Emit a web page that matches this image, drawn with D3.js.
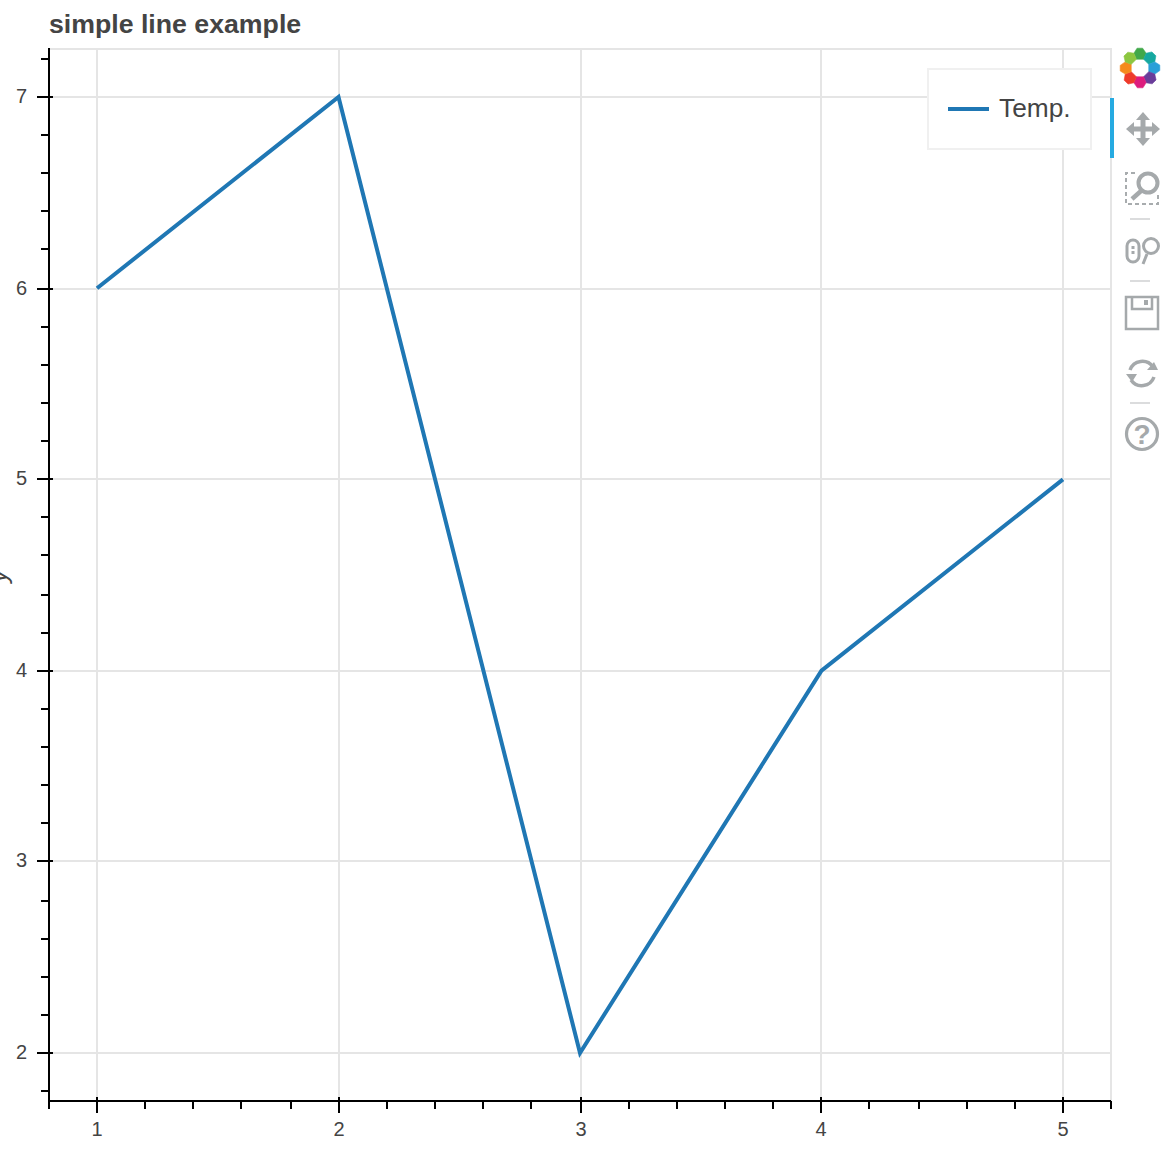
<!DOCTYPE html>
<html><head><meta charset="utf-8">
<script src="https://cdn.jsdelivr.net/npm/d3@7"></script>
<style>html,body{margin:0;padding:0;background:#fff}svg{display:block}text{font-family:"Liberation Sans",Arial,sans-serif}</style>
</head><body><svg id="c" width="1172" height="1160"></svg>
<script>
const title = "simple line example";
const seriesName = "Temp.";
const yLabel = "y";
const xValues = [1, 2, 3, 4, 5];
const yValues = [6, 7, 2, 4, 5];
const xMajor = [1, 2, 3, 4, 5];
const yMajor = [2, 3, 4, 5, 6, 7];
const xMinor = [0.8,1.2,1.4,1.6,1.8,2.2,2.4,2.6,2.8,3.2,3.4,3.6,3.8,4.2,4.4,4.6,4.8,5.2];
const yMinor = [1.8,2.2,2.4,2.6,2.8,3.2,3.4,3.6,3.8,4.2,4.4,4.6,4.8,5.2,5.4,5.6,5.8,6.2,6.4,6.6,6.8,7.2];
const logoColors = ["#3fa84a","#16a8a0","#2b9fd8","#6a3d9a","#dd1c7e","#ee3a2c","#f58a1f","#8cc63f"];

const L=49,R=1111,T=49,B=1101;
const svg=d3.select("#c");
const x=d3.scaleLinear().domain([0.80124,5.1988]).range([L,R]);
const y=d3.scaleLinear().domain([1.749,7.251]).range([B,T]);
const snap=v=>2*Math.floor((v+0.01)/2)+1;
const GRID="#e5e5e5",INK="#444444",BLUE="#1f77b4",ICON="#a5a9ab";

svg.append("path").attr("d",`M${L},${T}H${R}V${B}`).attr("fill","none").attr("stroke",GRID).attr("stroke-width",2);
svg.append("g").selectAll("line").data(xMajor).join("line")
 .attr("x1",d=>snap(x(d))).attr("x2",d=>snap(x(d))).attr("y1",T).attr("y2",B).attr("stroke",GRID).attr("stroke-width",2);
svg.append("g").selectAll("line").data(yMajor).join("line")
 .attr("y1",d=>snap(y(d))).attr("y2",d=>snap(y(d))).attr("x1",L).attr("x2",R).attr("stroke",GRID).attr("stroke-width",2);

svg.append("path").datum(xValues.map((v,i)=>[v,yValues[i]]))
 .attr("d",d3.line().x(d=>x(d[0])).y(d=>y(d[1])))
 .attr("fill","none").attr("stroke",BLUE).attr("stroke-width",4).attr("stroke-linejoin","miter");

function style(g){g.selectAll("line").attr("stroke","#000").attr("stroke-width",2);g.selectAll(".domain").remove();}
const snapX=g=>g.selectAll(".tick").attr("transform",d=>`translate(${snap(x(d))},0)`);
const snapY=g=>g.selectAll(".tick").attr("transform",d=>`translate(0,${snap(y(d))})`);
const gx=svg.append("g").attr("transform",`translate(0,${B})`);
gx.append("g").call(d3.axisBottom(x).offset(0).tickValues(xMinor).tickSize(8).tickFormat("")).call(style).call(snapX);
const gxM=gx.append("g").call(d3.axisBottom(x).offset(0).tickValues(xMajor).tickSize(12).tickFormat(d3.format("d"))).call(style).call(snapX);
gxM.selectAll("line").attr("y1",-4);
gxM.selectAll("text").attr("font-size",20).attr("fill",INK).attr("font-family",null).attr("y",21);
const gy=svg.append("g").attr("transform",`translate(${L},0)`);
gy.append("g").call(d3.axisLeft(y).offset(0).tickValues(yMinor).tickSize(8).tickFormat("")).call(style).call(snapY);
const gyM=gy.append("g").call(d3.axisLeft(y).offset(0).tickValues(yMajor).tickSize(12).tickFormat(d3.format("d"))).call(style).call(snapY);
gyM.selectAll("line").attr("x1",4);
gyM.selectAll("text").attr("font-size",20).attr("fill",INK).attr("font-family",null).attr("x",-22);
svg.append("path").attr("d",`M${L},${T-1}V${B}H${R}`).attr("fill","none").attr("stroke","#000").attr("stroke-width",2);

svg.append("text").attr("x",49).attr("y",33).attr("font-size",26.7).attr("font-weight","bold").attr("fill",INK).text(title);
svg.append("text").attr("transform","translate(7,576) rotate(-90)").attr("text-anchor","middle").attr("font-size",26).attr("font-style","italic").attr("fill",INK).text(yLabel);

svg.append("rect").attr("x",928).attr("y",69).attr("width",163).attr("height",80).attr("fill","#fff").attr("stroke","#f0f0f0").attr("stroke-width",2);
svg.append("line").attr("x1",948).attr("x2",989).attr("y1",109).attr("y2",109).attr("stroke",BLUE).attr("stroke-width",4);
svg.append("text").attr("x",999).attr("y",117).attr("font-size",26.3).attr("fill",INK).text(seriesName);

svg.append("rect").attr("x",1110).attr("y",98).attr("width",4).attr("height",60).attr("fill","#26aae1");
const tb=svg.append("g");
// logo: eight pinwheel blades
const defs=svg.append("defs");
defs.append("filter").attr("id","soft").append("feGaussianBlur").attr("stdDeviation",0.7);
const logo=tb.append("g").attr("transform","translate(1140,68)").attr("filter","url(#soft)");
const pt=(r,deg)=>{const a=(deg-90)*Math.PI/180;return [r*Math.cos(a),r*Math.sin(a)];};
logo.selectAll("path").data(logoColors).join("path")
 .attr("d",(c,i)=>{const a=i*45-22.5;return "M"+[pt(9.5,a),pt(16,a),pt(20,a+14),pt(20,a+30),pt(16,a+45),pt(9.5,a+45)].map(p=>p.join(",")).join("L")+"Z";})
 .attr("fill",c=>c).attr("stroke",c=>c).attr("stroke-width",0.6);
// move
tb.append("path").attr("fill",ICON).attr("d","M1143,112l7,8h-4.5v6.5h6.5v-4.5l8,7l-8,7v-4.5h-6.5v6.5h4.5l-7,8l-7,-8h4.5v-6.5h-6.5v4.5l-8,-7l8,-7v4.5h6.5v-6.5h-4.5z");
// box zoom
tb.append("path").attr("d","M1135,173H1126V204H1158V195").attr("fill","none").attr("stroke","#a8acae").attr("stroke-width",2).attr("stroke-dasharray","4 3");
tb.append("circle").attr("cx",1148).attr("cy",183).attr("r",9.5).attr("fill","#fff").attr("stroke",ICON).attr("stroke-width",4);
tb.append("line").attr("x1",1141).attr("y1",191).attr("x2",1132).attr("y2",199).attr("stroke",ICON).attr("stroke-width",4.5);
[219,281,403].forEach(v=>tb.append("line").attr("x1",1130).attr("x2",1150).attr("y1",v).attr("y2",v).attr("stroke","#cfd1d2").attr("stroke-width",1.5));
// wheel zoom
tb.append("rect").attr("x",1127).attr("y",240).attr("width",12).attr("height",22).attr("rx",6).attr("fill","none").attr("stroke",ICON).attr("stroke-width",3);
tb.append("line").attr("x1",1133).attr("x2",1133).attr("y1",246).attr("y2",256).attr("stroke",ICON).attr("stroke-width",3).attr("stroke-dasharray","3 2");
tb.append("circle").attr("cx",1151).attr("cy",246).attr("r",7.5).attr("fill","none").attr("stroke",ICON).attr("stroke-width",3);
tb.append("line").attr("x1",1147).attr("y1",254).attr("x2",1143).attr("y2",264).attr("stroke",ICON).attr("stroke-width",3);
// save
tb.append("rect").attr("x",1126).attr("y",297).attr("width",32).attr("height",32).attr("fill","none").attr("stroke",ICON).attr("stroke-width",2.5);
tb.append("path").attr("d","M1132,297v12h20v-12").attr("fill","none").attr("stroke",ICON).attr("stroke-width",2.5);
tb.append("rect").attr("x",1144).attr("y",300).attr("width",4).attr("height",5).attr("fill",ICON);
// reset
tb.append("path").attr("fill","none").attr("stroke",ICON).attr("stroke-width",3.5).attr("d","M1130,370a13,13 0 0 1 23,-3M1154,377a13,13 0 0 1 -23,3");
tb.append("path").attr("fill",ICON).attr("d","M1147,370h11l-4,-8zM1126,374h11l-5,8z");
// help
tb.append("circle").attr("cx",1142).attr("cy",434).attr("r",15.5).attr("fill","none").attr("stroke",ICON).attr("stroke-width",3.2);
tb.append("text").attr("x",1142).attr("y",444).attr("text-anchor","middle").attr("font-size",28).attr("font-weight","bold").attr("fill",ICON).text("?");
</script></body></html>
